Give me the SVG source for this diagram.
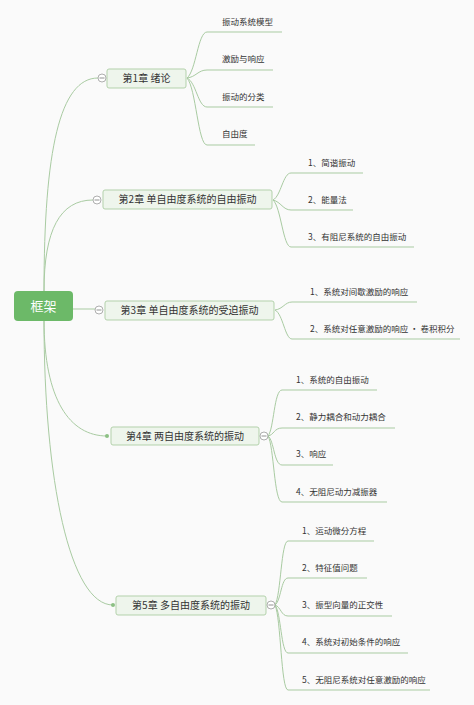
<svg xmlns="http://www.w3.org/2000/svg" width="474" height="705" viewBox="0 0 474 705">
<style>
text{font-family:"Noto Sans CJK SC","Liberation Sans",sans-serif;fill:#333}
.conn path{fill:none;stroke:#a9cba2;stroke-width:1}
.ch rect{fill:#eef5ec;stroke:#b3d1ab;stroke-width:1}
.ch text{font-size:10px;text-anchor:middle}
.leaf text{font-size:8.5px}
.tog circle{fill:#fff;stroke:#9a9a9a;stroke-width:0.8}
.tog line{stroke:#777;stroke-width:0.8}
.dot{fill:#8cc084}
</style>
<rect width="474" height="705" fill="#fafafa"/>
<g id="connectors" class="conn">
<path d="M44 291 C44 150 60 78 98 78"/>
<path d="M44 291 C44 230 60 200 93 200"/>
<path d="M73 309 H95"/>
<path d="M44 320 C44 400 70 436 107 436"/>
<path d="M44 320 C44 480 70 605 113 605"/>
<path d="M187 78 C196 71 198 32 207 32 H282"/>
<path d="M187 78 C196 77 198 70 207 70 H273"/>
<path d="M187 78 C196 82 198 107 207 107 H273"/>
<path d="M187 78 C196 88 198 145 207 145 H255"/>
<path d="M273 200 C281 196 283 173 291 173 H363"/>
<path d="M273 200 C281 202 283 210 291 210 H353"/>
<path d="M273 200 C281 207 283 247 291 247 H414"/>
<path d="M275 310 C283 309 285 302 292 302 H417"/>
<path d="M275 310 C283 314 285 339 292 339 H460"/>
<path d="M268 436 C274 429 274 390 282 390 H377"/>
<path d="M268 436 C274 435 274 428 282 428 H395"/>
<path d="M268 436 C274 440 274 465 282 465 H333"/>
<path d="M268 436 C274 446 274 502 282 502 H387"/>
<path d="M275 605 C281 595 281 541 288 541 H374"/>
<path d="M275 605 C281 601 281 578 288 578 H367"/>
<path d="M275 605 C281 607 281 616 288 616 H392"/>
<path d="M275 605 C281 612 281 653 288 653 H408"/>
<path d="M275 605 C281 618 281 690 288 690 H430"/>
</g>
<g id="root">
<rect x="14" y="291" width="59" height="30" rx="4" fill="#6cb968"/>
<text x="43.5" y="310.5" font-size="13" text-anchor="middle" style="fill:#fff">框架</text>
</g>
<g id="ch1" class="ch">
<rect x="107" y="69" width="79" height="19" rx="2"/>
<text x="146.5" y="82">第1章 绪论</text>
<g class="tog"><circle cx="102" cy="78" r="4"/><line x1="99.5" y1="78" x2="104.5" y2="78"/></g>
</g>
<g id="ch2" class="ch">
<rect x="103" y="190" width="169" height="19" rx="2"/>
<text x="187.5" y="203">第2章 单自由度系统的自由振动</text>
<g class="tog"><circle cx="97" cy="200" r="4"/><line x1="94.5" y1="200" x2="99.5" y2="200"/></g>
</g>
<g id="ch3" class="ch">
<rect x="105" y="301" width="169" height="19" rx="2"/>
<text x="189.5" y="314">第3章 单自由度系统的受迫振动</text>
<g class="tog"><circle cx="99" cy="310" r="4"/><line x1="96.5" y1="310" x2="101.5" y2="310"/></g>
</g>
<g id="ch4" class="ch">
<rect x="111" y="427" width="148" height="18" rx="2"/>
<text x="185" y="440">第4章 两自由度系统的振动</text>
<circle class="dot" cx="107" cy="436" r="2"/>
<g class="tog"><circle cx="264" cy="436" r="4"/><line x1="261.5" y1="436" x2="266.5" y2="436"/></g>
</g>
<g id="ch5" class="ch">
<rect x="116" y="596" width="150" height="19" rx="2"/>
<text x="191" y="609">第5章 多自由度系统的振动</text>
<circle class="dot" cx="113" cy="605" r="2"/>
<g class="tog"><circle cx="271" cy="605" r="4"/><line x1="268.5" y1="605" x2="273.5" y2="605"/></g>
</g>
<g id="ch1-items" class="leaf">
<g id="n1-1"><text x="222" y="25">振动系统模型</text></g>
<g id="n1-2"><text x="222" y="62">激励与响应</text></g>
<g id="n1-3"><text x="222" y="100">振动的分类</text></g>
<g id="n1-4"><text x="222" y="137">自由度</text></g>
</g>
<g id="ch2-items" class="leaf">
<g id="n2-1"><text x="308" y="166">1、简谐振动</text></g>
<g id="n2-2"><text x="308" y="203">2、能量法</text></g>
<g id="n2-3"><text x="308" y="240">3、有阻尼系统的自由振动</text></g>
</g>
<g id="ch3-items" class="leaf">
<g id="n3-1"><text x="310" y="295">1、系统对间歇激励的响应</text></g>
<g id="n3-2"><text x="310" y="332">2、系统对任意激励的响应 · 卷积积分</text></g>
</g>
<g id="ch4-items" class="leaf">
<g id="n4-1"><text x="296" y="383">1、系统的自由振动</text></g>
<g id="n4-2"><text x="296" y="420">2、静力耦合和动力耦合</text></g>
<g id="n4-3"><text x="296" y="457">3、响应</text></g>
<g id="n4-4"><text x="296" y="495">4、无阻尼动力减振器</text></g>
</g>
<g id="ch5-items" class="leaf">
<g id="n5-1"><text x="302" y="534">1、运动微分方程</text></g>
<g id="n5-2"><text x="302" y="571">2、特征值问题</text></g>
<g id="n5-3"><text x="302" y="608">3、振型向量的正交性</text></g>
<g id="n5-4"><text x="302" y="645">4、系统对初始条件的响应</text></g>
<g id="n5-5"><text x="302" y="683">5、无阻尼系统对任意激励的响应</text></g>
</g>
</svg>
